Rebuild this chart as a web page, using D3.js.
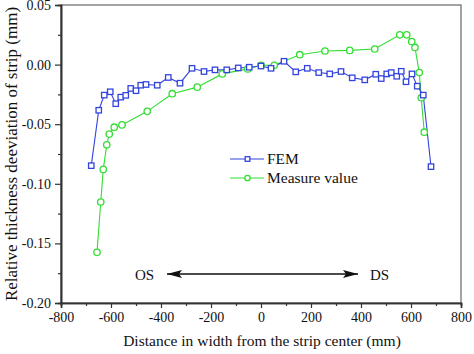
<!DOCTYPE html>
<html>
<head>
<meta charset="utf-8">
<script src="https://cdn.jsdelivr.net/npm/d3@7"></script>
<style>
  body { margin: 0; background: #fff; }
  svg text { font-family: "Liberation Serif", serif; }
</style>
</head>
<body>
<div id="chart"></div>
<script>
// FEM (blue squares)
const femX = [-679, -649, -627, -603, -581, -561, -541, -521, -500, -481, -460, -415, -371, -324, -276, -228, -184, -137, -91, -47, 0, 40, 92, 139, 185, 231, 275, 320, 365, 415, 459, 481, 503, 521, 543, 561, 580, 604, 625, 649, 680];
const femY = [-0.0848, -0.0383, -0.0256, -0.0228, -0.0328, -0.0273, -0.0258, -0.0200, -0.0219, -0.0173, -0.0167, -0.0173, -0.0108, -0.0156, -0.0031, -0.0058, -0.0044, -0.0044, -0.0028, -0.0022, -0.0012, -0.0031, 0.0028, -0.0061, -0.0031, -0.0067, -0.0078, -0.0058, -0.0111, -0.0128, -0.0081, -0.0117, -0.0078, -0.0067, -0.0098, -0.0056, -0.0144, -0.0078, -0.0181, -0.0256, -0.0856];

// Measure value (green circles)
const measX = [-656, -641, -631, -617, -607, -587, -556, -455, -355, -255, -155, -53, 0, 53, 155, 256, 355, 455, 555, 583, 603, 616, 633, 641, 653];
const measY = [-0.1575, -0.1153, -0.0879, -0.0673, -0.0583, -0.0525, -0.0506, -0.0392, -0.0244, -0.0189, -0.0078, -0.0036, -0.0006, -0.0006, 0.0083, 0.0114, 0.0119, 0.0131, 0.0250, 0.0250, 0.0194, 0.0144, -0.0067, -0.0278, -0.0567];

const xTicks = [-800, -600, -400, -200, 0, 200, 400, 600, 800];
const yTicks = [0.05, 0.00, -0.05, -0.10, -0.15, -0.20];

const W = 474, H = 354;
const m = { left: 61, right: 13, top: 5, bottom: 51 };
const blue = "#3344dd", green = "#33dd33";
const FONT = "Liberation Serif";

const svg = d3.select("#chart").append("svg")
  .attr("width", W).attr("height", H);

const x = d3.scaleLinear().domain([-800, 800]).range([m.left, W - m.right]);
const y = d3.scaleLinear().domain([-0.20, 0.05]).range([H - m.bottom, m.top]);

// frame (top / right)
svg.append("rect")
  .attr("x", x(-800)).attr("y", y(0.05))
  .attr("width", x(800) - x(-800)).attr("height", y(-0.20) - y(0.05))
  .attr("fill", "none").attr("stroke", "#666").attr("stroke-width", 1.2);

// axes
const xAxis = svg.append("g")
  .attr("transform", `translate(0,${y(-0.20)})`)
  .call(d3.axisBottom(x).tickValues(xTicks).tickSize(5).tickPadding(4)
    .tickFormat(d => d));
const xMinor = svg.append("g")
  .attr("transform", `translate(0,${y(-0.20)})`)
  .call(d3.axisBottom(x).tickValues(d3.range(-700, 800, 200)).tickSize(3).tickFormat(""));

const yAxis = svg.append("g")
  .attr("transform", `translate(${x(-800)},0)`)
  .call(d3.axisLeft(y).tickValues(yTicks).tickSize(6).tickPadding(4)
    .tickFormat(d3.format(".2f")));
const yMinor = svg.append("g")
  .attr("transform", `translate(${x(-800)},0)`)
  .call(d3.axisLeft(y).tickValues([0.025, -0.025, -0.075, -0.125, -0.175]).tickSize(3).tickFormat(""));

[xAxis, xMinor, yAxis, yMinor].forEach(g => {
  g.attr("font-family", FONT);
  g.select(".domain").attr("stroke", "#333").attr("stroke-width", 1.6);
  g.selectAll(".tick line").attr("stroke", "#333").attr("stroke-width", 1.2);
  g.selectAll("text").attr("font-size", 14).attr("fill", "#111")
    .attr("font-family", FONT);
});
yAxis.selectAll("text").text(d => d3.format(".2f")(d).replace("−", "-"));
xAxis.selectAll("text").text(d => String(d));

// axis titles
svg.append("text")
  .attr("x", (x(-800) + x(800)) / 2 + 1).attr("y", 346)
  .attr("text-anchor", "middle").attr("font-size", 15.5).attr("fill", "#111")
  .attr("font-family", FONT)
  .text("Distance in width from the strip center (mm)");
svg.append("text")
  .attr("transform", `translate(17,154) rotate(-90)`)
  .attr("text-anchor", "middle").attr("font-size", 17).attr("fill", "#111")
  .attr("font-family", FONT)
  .text("Relative thickness deeviation of strip (mm)");

// series
const femData = femX.map((v, i) => [v, femY[i]]);
const measData = measX.map((v, i) => [v, measY[i]]);
const line = d3.line().x(d => x(d[0])).y(d => y(d[1]));

svg.append("path").datum(measData)
  .attr("d", line).attr("fill", "none").attr("stroke", green).attr("stroke-width", 1.1);
svg.append("path").datum(femData)
  .attr("d", line).attr("fill", "none").attr("stroke", blue).attr("stroke-width", 1.1);

svg.append("g").selectAll("circle").data(measData).join("circle")
  .attr("cx", d => x(d[0])).attr("cy", d => y(d[1])).attr("r", 3.2)
  .attr("fill", "#fff").attr("stroke", green).attr("stroke-width", 1.3);
svg.append("g").selectAll("rect").data(femData).join("rect")
  .attr("x", d => x(d[0]) - 2.7).attr("y", d => y(d[1]) - 2.7)
  .attr("width", 5.4).attr("height", 5.4)
  .attr("fill", "#fff").attr("stroke", blue).attr("stroke-width", 1.3);

// legend
const leg = svg.append("g");
[["FEM", blue, "rect", 159], ["Measure value", green, "circle", 178]].forEach(([lbl, col, shp, ly]) => {
  leg.append("line").attr("x1", 230).attr("x2", 264).attr("y1", ly).attr("y2", ly)
    .attr("stroke", col).attr("stroke-width", 1.1);
  if (shp === "rect") {
    leg.append("rect").attr("x", 247.5 - 2.3).attr("y", ly - 2.3).attr("width", 4.6).attr("height", 4.6)
      .attr("fill", "#fff").attr("stroke", col).attr("stroke-width", 1.3);
  } else {
    leg.append("circle").attr("cx", 247.5).attr("cy", ly).attr("r", 2.7)
      .attr("fill", "#fff").attr("stroke", col).attr("stroke-width", 1.3);
  }
  leg.append("text").attr("x", 267).attr("y", ly + 5).attr("font-size", 15.5)
    .attr("fill", "#111").attr("font-family", FONT).text(lbl);
});

// OS <-> DS arrow
const defs = svg.append("defs");
defs.append("marker").attr("id", "ah").attr("viewBox", "0 0 15 8")
  .attr("refX", 15).attr("refY", 4).attr("markerWidth", 15).attr("markerHeight", 8)
  .attr("markerUnits", "userSpaceOnUse").attr("orient", "auto-start-reverse")
  .append("path").attr("d", "M0,0 L15,4 L0,8 L3,4 z").attr("fill", "#111");
svg.append("line")
  .attr("x1", x(-376)).attr("x2", x(388)).attr("y1", 274).attr("y2", 274)
  .attr("stroke", "#111").attr("stroke-width", 1.3)
  .attr("marker-start", "url(#ah)").attr("marker-end", "url(#ah)");
svg.append("text").attr("x", 135).attr("y", 279.5).attr("font-size", 15)
  .attr("fill", "#111").attr("font-family", FONT).text("OS");
svg.append("text").attr("x", 370).attr("y", 279.5).attr("font-size", 15)
  .attr("fill", "#111").attr("font-family", FONT).text("DS");
</script>
</body>
</html>
